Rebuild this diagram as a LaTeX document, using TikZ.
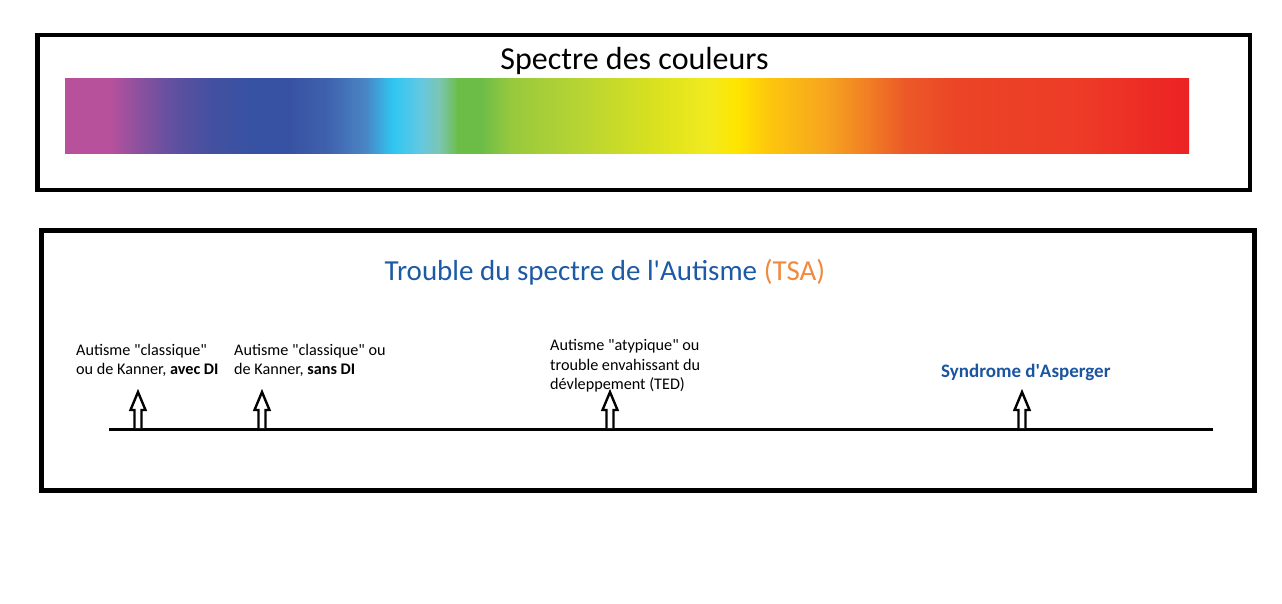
\documentclass[tikz,border=0pt]{standalone}
\usepackage{fontspec}
\setmainfont{Carlito}
\newcommand{\apos}{\textquotesingle}
\newcommand{\dq}{\textquotedbl}
\definecolor{tsablue}{HTML}{1D5AA5}
\definecolor{tsaorange}{HTML}{F08A3E}
\definecolor{aspblue}{HTML}{1B55A0}
\definecolor{spmagenta}{HTML}{B8519C}
\definecolor{sppurple}{HTML}{8E519F}
\definecolor{spviolet}{HTML}{5E50A0}
\definecolor{spindigo}{HTML}{4350A0}
\definecolor{spblue}{HTML}{3852A3}
\definecolor{spmidblue}{HTML}{3F62AD}
\definecolor{splightblue}{HTML}{4A86C6}
\definecolor{spcyan}{HTML}{2FC6F2}
\definecolor{splightcyan}{HTML}{62C8E2}
\definecolor{spteal}{HTML}{7BC6B5}
\definecolor{spgreen}{HTML}{6CBD48}
\definecolor{spyellowgreen}{HTML}{98C93D}
\definecolor{splime}{HTML}{B6D433}
\definecolor{spchartreuse}{HTML}{DCE21E}
\definecolor{sppaleyellow}{HTML}{F2EA1F}
\definecolor{spyellow}{HTML}{FFE500}
\definecolor{spgold}{HTML}{FDC70C}
\definecolor{spamber}{HTML}{F6A51F}
\definecolor{sporange}{HTML}{F17F24}
\definecolor{spvermilion}{HTML}{EC5A28}
\definecolor{spredorange}{HTML}{EB4426}
\definecolor{spred}{HTML}{ED3B27}
\definecolor{spdeepred}{HTML}{EC2224}
\pgfdeclarehorizontalshading{spectrum}{50bp}{color(0bp)=(spmagenta); color(25bp)=(spmagenta);
  color(27bp)=(spmagenta); color(28.2bp)=(sppurple); color(29.9bp)=(spviolet);
  color(31.58bp)=(spindigo); color(33.23bp)=(spblue); color(35.01bp)=(spblue);
  color(36.7bp)=(spmidblue); color(38.39bp)=(splightblue); color(39.59bp)=(spcyan);
  color(40.79bp)=(splightcyan); color(41.64bp)=(spteal); color(42.48bp)=(spgreen);
  color(43.51bp)=(spgreen); color(44.88bp)=(spyellowgreen); color(47.78bp)=(splime);
  color(51.51bp)=(spchartreuse); color(53.6bp)=(sppaleyellow); color(54.9bp)=(spyellow);
  color(56.3bp)=(spgold); color(58.8bp)=(spamber); color(60.7bp)=(sporange);
  color(62.3bp)=(spvermilion); color(64.81bp)=(spredorange); color(70.15bp)=(spred);
  color(75bp)=(spdeepred); color(100bp)=(spdeepred)}
\tikzset{
  frame/.style={draw=black, line width=4.5pt},
  axisline/.style={draw=black, line width=3pt},
  itemtext/.style={anchor=base west, inner sep=0pt, align=left,
    font=\fontsize{16.2}{19.5}\selectfont},
  uparrow/.pic={
    \draw[line width=2.4pt, fill=white, line join=miter]
      (-3.5,0) -- (-3.5,-18) -- (-7.5,-18) -- (0,-36) -- (7.5,-18) -- (3.5,-18) -- (3.5,0);
  }
}
\begin{document}
\begin{tikzpicture}[x=1pt,y=-1pt]
  \useasboundingbox (0,0) rectangle (1282,604);
  % colour spectrum
  \draw[frame] (37.5,35) rectangle (1250,190);
  \shade[shading=spectrum] (65,79) rectangle (1189,154);
  \node[anchor=base, inner sep=0pt, font=\fontsize{32}{38}\selectfont] (colours)
    at (634.5,70) {Spectre des couleurs};
  % autism spectrum
  \draw[frame] (41.5,230.5) rectangle (1254.5,490.5);
  \node[anchor=base, inner sep=0pt, font=\fontsize{29}{35}\selectfont] (tsa)
    at (605,280) {\textcolor{tsablue}{Trouble du spectre de l\apos Autisme} \textcolor{tsaorange}{(TSA)}};
  \coordinate (axisL) at (109,429);
  \coordinate (axisR) at (1213,429);
  \draw[axisline] (axisL) -- (axisR);
  \pic at (138,428) {uparrow};
  \pic at (262,428) {uparrow};
  \pic at (610,428) {uparrow};
  \pic at (1022,428) {uparrow};
  % last-line baselines
  \node[itemtext] (kannerDI) at (76,374.5)
    {Autisme \dq classique\dq\\ou de Kanner, \textbf{avec DI}};
  \node[itemtext] (kanner) at (234,374.5)
    {Autisme \dq classique\dq{} ou\\de Kanner, \textbf{sans DI}};
  \node[itemtext] (ted) at (550,389.5)
    {Autisme \dq atypique\dq{} ou\\trouble envahissant du\\dévleppement (TED)};
  \node[itemtext, font=\fontsize{19}{23}\selectfont\bfseries, text=aspblue] (asperger)
    at (941,377) {Syndrome d\apos Asperger};
\end{tikzpicture}
\end{document}
